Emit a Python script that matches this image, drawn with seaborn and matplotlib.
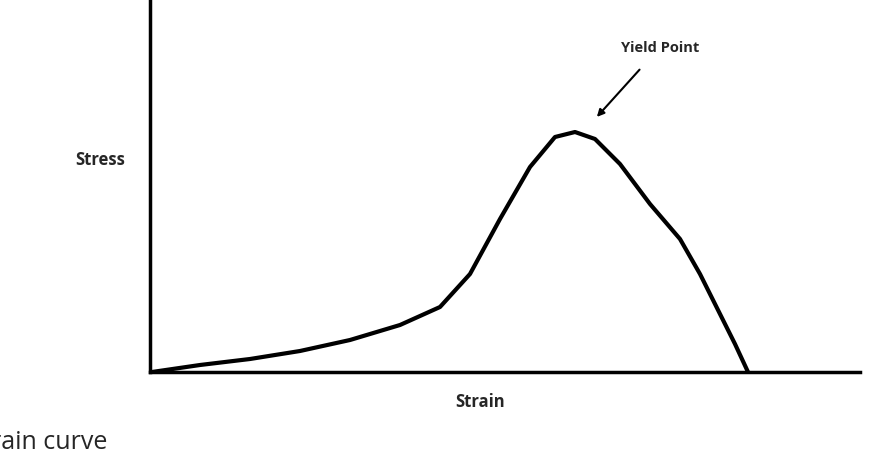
import numpy as np
import matplotlib.pyplot as plt
import seaborn as sns

sns.set_style("white")
plt.rcParams['font.family'] = ['Open Sans', 'DejaVu Sans']

# curve (strain, stress in arbitrary units)
strain = [2, 50, 100, 150, 200, 250, 290, 320, 350, 380, 405, 425, 445, 470, 500, 530, 550, 570, 585, 598]
stress = [0, 7, 13, 21, 32, 47, 65, 98, 153, 205, 235, 240, 233, 208, 168, 133, 98, 58, 28, 0]

fig = plt.figure(figsize=(8.7, 4.56), dpi=100)
ax = fig.add_axes([150/870, 83/456, 710/870, 373/456])
sns.lineplot(x=strain, y=stress, ax=ax, color='black', linewidth=3, sort=False)
ax.lines[0].set_solid_joinstyle('round')
ax.set_xlim(0, 710)
ax.set_ylim(0, 373)
ax.set_xticks([])
ax.set_yticks([])
for s in ['top', 'right']:
    ax.spines[s].set_visible(False)
for s in ['left', 'bottom']:
    ax.spines[s].set_linewidth(2.5)
    ax.spines[s].set_color('black')

fig.text(100/870, 1 - 160/456, 'Stress', ha='center', va='center', fontsize=12, fontweight='bold')
fig.text(480/870, 1 - 402/456, 'Strain', ha='center', va='center', fontsize=12, fontweight='bold')
ax.annotate('Yield Point', xy=(445, 253), xytext=(510, 325), ha='center', va='center',
            fontsize=10.5, fontweight='bold',
            arrowprops=dict(arrowstyle='-|>', color='black', lw=1.5, shrinkA=12))
# caption is cut off at the left edge in the original too
fig.text(-0.01, 1 - 443/456, 'rain curve', ha='left', va='center', fontsize=18)

fig.savefig('out.png', dpi=100)
